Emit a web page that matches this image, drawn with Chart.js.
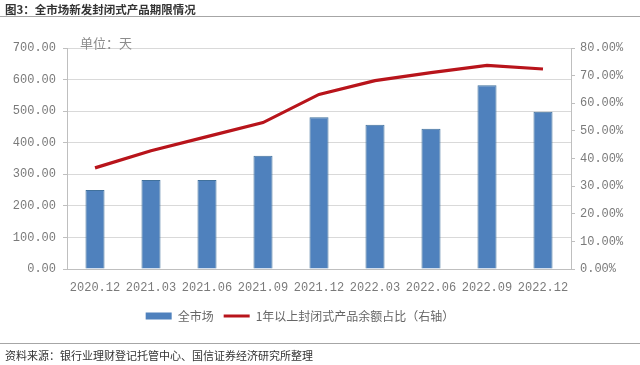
<!DOCTYPE html>
<html><head><meta charset="utf-8">
<script src="https://cdn.jsdelivr.net/npm/chart.js@4.4.0/dist/chart.umd.min.js"></script>
<style>
html,body{margin:0;padding:0;background:#fff;width:640px;height:365px;overflow:hidden;}
#wrap{position:relative;width:640px;height:365px;}
canvas{position:absolute;left:0;top:0;}
.t{position:absolute;font-family:"Noto Sans CJK SC",sans-serif;white-space:nowrap;}
#title{left:5px;top:1px;font-size:11.5px;font-weight:bold;color:#333;}
#tline{position:absolute;left:0;top:16px;width:640px;height:1px;background:#a6a6a6;}
#unit{left:80px;top:33px;font-size:13px;color:#8c8c8c;}
#fline{position:absolute;left:0;top:343px;width:640px;height:1px;background:#a6a6a6;}
#foot{left:5px;top:347px;font-size:11px;color:#333;}
</style></head>
<body><div id="wrap">
<canvas id="c" width="640" height="365"></canvas>
<div class="t" id="title">图3：全市场新发封闭式产品期限情况</div>
<div id="tline"></div>
<div class="t" id="unit">单位：天</div>
<div id="fline"></div>
<div class="t" id="foot">资料来源：银行业理财登记托管中心、国信证券经济研究所整理</div>
</div>
<script>
const categories = ['2020.12','2021.03','2021.06','2021.09','2021.12','2022.03','2022.06','2022.09','2022.12'];
const marketDays = [250, 282, 282, 359, 481, 457, 444, 582, 498];
const longRatio = [36.6, 42.8, 47.9, 53.0, 63.2, 68.2, 71.1, 73.7, 72.4];
const barLabel = '全市场';
const lineLabel = '1年以上封闭式产品余额占比（右轴）';

const BLUE = '#4f81bd', RED = '#b8141b', AX = '#bfbfbf', TXT = '#7a7a7a';
const tickFont = {family: '"Liberation Mono", monospace', size: 12};

const shiftLegend = {
  id: 'shiftLegend',
  beforeDraw(chart) {
    const lg = chart.legend;
    if (lg && !lg._shifted) { lg.left -= 20; lg.right -= 20; lg._shifted = true; }
  }
};

new Chart(document.getElementById('c'), {
  data: {
    labels: categories,
    datasets: [
      {type: 'line', label: lineLabel, data: longRatio, yAxisID: 'y1', borderColor: RED, backgroundColor: RED,
       borderWidth: 3.2, pointRadius: 0, tension: 0, order: 0},
      {type: 'bar', label: barLabel, data: marketDays, yAxisID: 'y', backgroundColor: BLUE, borderColor: '#41719c',
       borderWidth: 1, categoryPercentage: 1, barPercentage: 0.34, order: 1}
    ]
  },
  options: {
    responsive: false, animation: false, devicePixelRatio: 1,
    layout: {padding: {top: 48, left: 0, right: 0, bottom: 33}},
    plugins: {
      tooltip: {enabled: false},
      legend: {
        position: 'bottom',
        labels: {
          usePointStyle: true, pointStyleWidth: 26, boxHeight: 7, padding: 10,
          color: '#666', font: {family: '"Noto Sans CJK SC", sans-serif', size: 12},
          generateLabels() {
            return [
              {text: barLabel, fillStyle: BLUE, strokeStyle: BLUE, lineWidth: 0, pointStyle: 'rect', datasetIndex: 1, fontColor: '#666'},
              {text: lineLabel, fillStyle: RED, strokeStyle: RED, lineWidth: 3, pointStyle: 'line', datasetIndex: 0, fontColor: '#666'}
            ];
          }
        }
      }
    },
    scales: {
      x: {
        grid: {display: false},
        border: {display: true, color: AX},
        ticks: {color: TXT, font: tickFont, padding: 4, maxRotation: 0, autoSkip: false},
        afterFit(s) { s.height = 31; }
      },
      y: {
        position: 'left', min: 0, max: 700,
        ticks: {stepSize: 100, color: TXT, font: tickFont, padding: 7, callback: v => v.toFixed(2)},
        grid: {color: '#d9d9d9', tickLength: 4, tickColor: AX},
        border: {color: AX},
        afterFit(s) { s.width = 67; }
      },
      y1: {
        position: 'right', min: 0, max: 80,
        ticks: {stepSize: 10, color: TXT, font: tickFont, padding: 5, callback: v => v.toFixed(2) + '%'},
        grid: {drawOnChartArea: false, tickLength: 4, color: AX},
        border: {color: AX},
        afterFit(s) { s.width = 69; }
      }
    }
  },
  plugins: [shiftLegend]
});
</script>
</body></html>
